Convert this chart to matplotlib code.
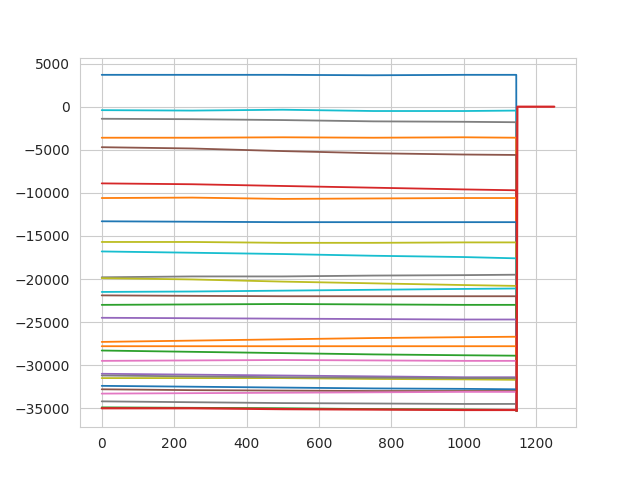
import numpy as np
import matplotlib
matplotlib.use("Agg")
import matplotlib.pyplot as plt
import seaborn as sns

sns.set_style("whitegrid")

knots = [0, 250, 500, 750, 1000, 1145]
end_x = 1146
drop_y = -35300

series = [
    ("#1f77b4", [3700, 3700, 3700, 3650, 3700, 3700]),
    ("#17becf", [-400, -450, -350, -500, -500, -450]),
    ("#7f7f7f", [-1400, -1450, -1550, -1700, -1750, -1800]),
    ("#ff7f0e", [-3600, -3600, -3550, -3600, -3550, -3600]),
    ("#8c564b", [-4700, -4850, -5150, -5400, -5550, -5600]),
    ("#d62728", [-8900, -9000, -9200, -9400, -9600, -9700]),
    ("#ff7f0e", [-10600, -10550, -10700, -10650, -10600, -10600]),
    ("#1f77b4", [-13300, -13350, -13400, -13400, -13400, -13400]),
    ("#bcbd22", [-15700, -15700, -15800, -15800, -15750, -15750]),
    ("#17becf", [-16800, -16950, -17100, -17300, -17450, -17600]),
    ("#7f7f7f", [-19800, -19700, -19700, -19600, -19550, -19500]),
    ("#bcbd22", [-19900, -20050, -20300, -20500, -20700, -20800]),
    ("#17becf", [-21500, -21450, -21350, -21250, -21150, -21100]),
    ("#8c564b", [-21900, -21950, -22000, -22000, -22000, -22000]),
    ("#2ca02c", [-23000, -22950, -22900, -22950, -23000, -23000]),
    ("#9467bd", [-24500, -24550, -24600, -24650, -24700, -24700]),
    ("#ff7f0e", [-27300, -27150, -27000, -26850, -26750, -26700]),
    ("#ff7f0e", [-27800, -27800, -27800, -27800, -27800, -27800]),
    ("#2ca02c", [-28300, -28450, -28600, -28750, -28850, -28900]),
    ("#e377c2", [-29500, -29450, -29400, -29450, -29500, -29500]),
    ("#9467bd", [-31000, -31100, -31200, -31300, -31400, -31400]),
    ("#bcbd22", [-31500, -31500, -31500, -31600, -31650, -31700]),
    ("#7f7f7f", [-31200, -31300, -31400, -31450, -31500, -31500]),
    ("#1f77b4", [-32400, -32500, -32600, -32700, -32750, -32800]),
    ("#8c564b", [-32800, -32900, -32950, -33000, -33000, -33000]),
    ("#e377c2", [-33300, -33250, -33200, -33150, -33100, -33100]),
    ("#7f7f7f", [-34200, -34300, -34400, -34450, -34500, -34500]),
    ("#2ca02c", [-34900, -34950, -35000, -35100, -35150, -35200]),
]
last_y = [-35000, -35000, -35100, -35150, -35200, -35200]
tail_x = [1148, 1250]
tail_y = [0, 0]

fig, ax = plt.subplots(figsize=(6.4, 4.8), dpi=100)
for color, ys in series:
    ax.plot(knots + [end_x], ys + [drop_y], color=color, lw=1.3)
ax.plot(knots + [end_x] + tail_x, last_y + [drop_y] + tail_y, color="#d62728", lw=1.6)

ax.set_xlim(-60, 1310)
ax.set_ylim(-37200, 5700)
ax.set_xticks([0, 200, 400, 600, 800, 1000, 1200])
ax.set_yticks(np.arange(-35000, 5001, 5000))
fig.savefig("out.png")
